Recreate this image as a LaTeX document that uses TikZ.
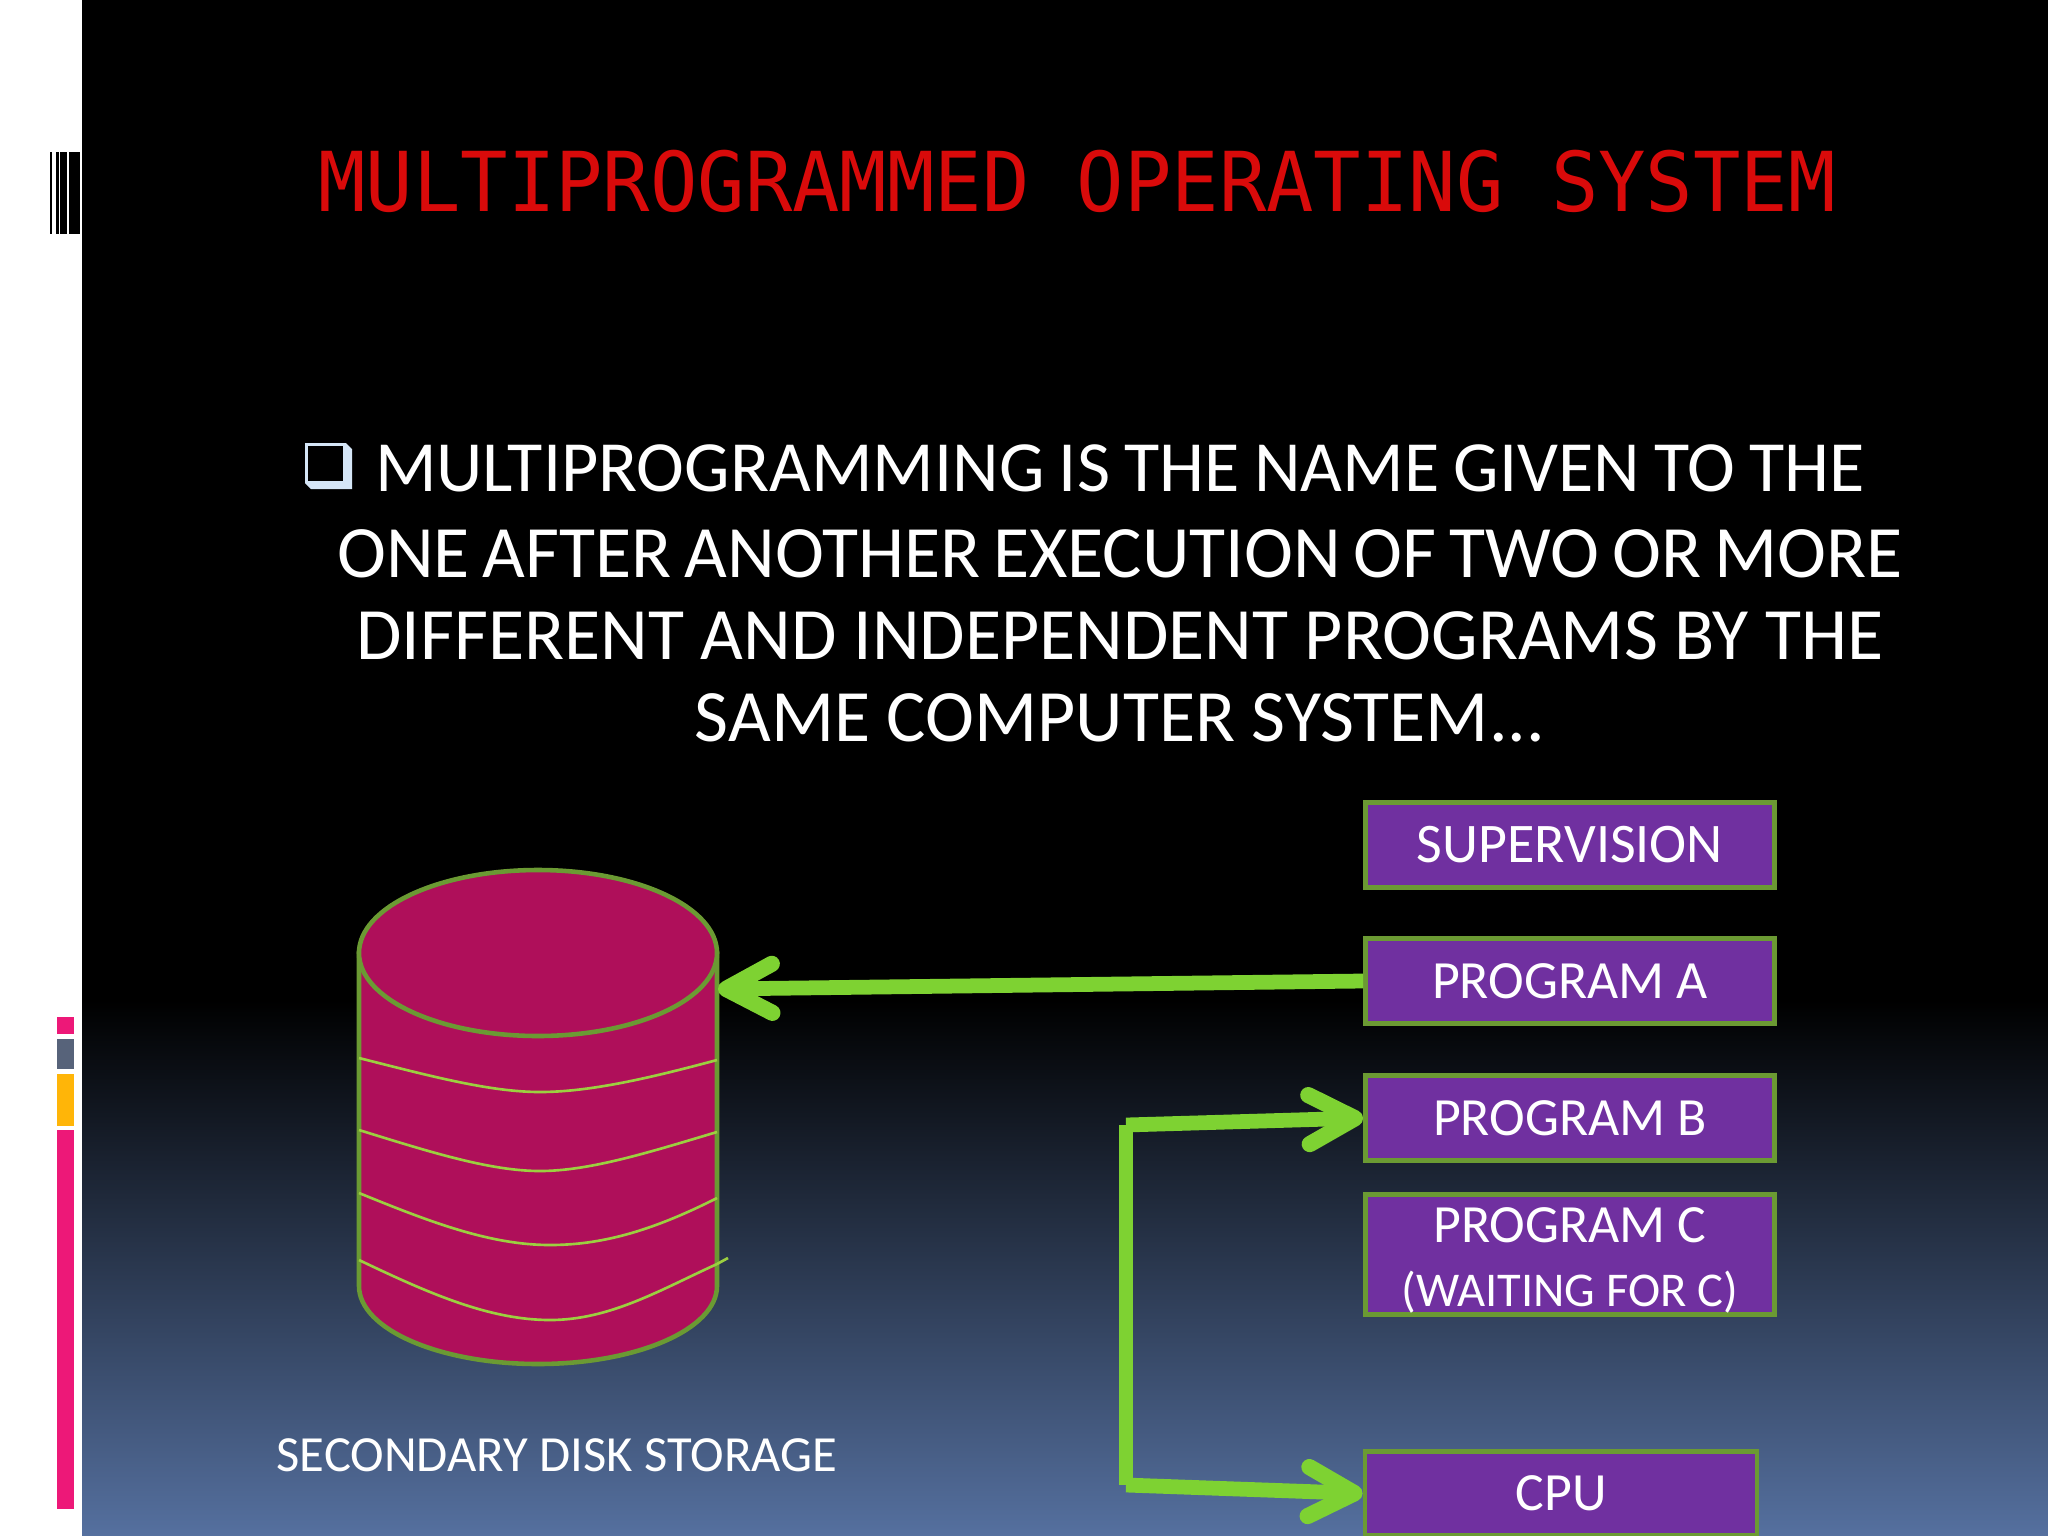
\documentclass[tikz,border=0pt]{standalone}
\usepackage{fontspec}
\setmainfont{Carlito}
\newfontfamily\slidemono[FakeStretch=0.953]{DejaVu Sans Mono}
\usetikzlibrary{calc,arrows.meta,positioning}
\definecolor{slideblue}{HTML}{55709F}
\definecolor{slidered}{HTML}{D90A0A}
\definecolor{slidepink}{HTML}{ED1878}
\definecolor{slidegray}{HTML}{57637A}
\definecolor{slideamber}{HTML}{FFB508}
\definecolor{diskfill}{HTML}{AF0F5A}
\definecolor{boxfill}{HTML}{7030A0}
\definecolor{edgegreen}{HTML}{6B9A33}
\definecolor{arrowgreen}{HTML}{7ED232}
\definecolor{trackgreen}{HTML}{9CCF40}
\definecolor{bulletblue}{HTML}{D5E6F7}
\tikzset{
  bodyline/.style={anchor=base,text=white,inner sep=0pt,font=\fontsize{21}{24}\selectfont},
  progbox/.style={draw=edgegreen,fill=boxfill,line width=1.3pt,text=white,inner sep=0pt,
    minimum width=4.09cm,minimum height=.845cm,align=center,
    font=\fontsize{15.3}{18.2}\selectfont},
  link/.style={draw=arrowgreen,line width=4.2pt},
  linkhead/.style={link,-{Straight Barb[round,length=4.6mm,width=4.9mm,line width=4.6pt]}},
  track/.style={draw=trackgreen,line width=.75pt},
}
\begin{document}
\begin{tikzpicture}[x=0.01cm,y=-0.01cm]
    \useasboundingbox (0,0) rectangle (2048,1536);
    % slide
    \fill[white] (0,0) rectangle (2048,1536);
    \fill[black] (82,0) rectangle (2048,1001);
    \shade[top color=black,bottom color=slideblue] (82,1000) rectangle (2048,1536);
    % barcode and side bars
    \foreach \xa/\xb in {50/52,56/59,60/67,69/80}
        \fill[black] (\xa,152) rectangle (\xb,234);
    \fill[slidepink] (57,1017) rectangle (74,1034);
    \fill[slidegray] (57,1039) rectangle (74,1069);
    \fill[slideamber] (57,1074) rectangle (74,1126);
    \fill[slidepink] (57,1130) rectangle (74,1509);

    \node (title) [anchor=base,text=slidered,inner sep=0pt,font=\slidemono\fontsize{23.5}{30}\selectfont] at (1077,211) {MULTIPROGRAMMED OPERATING SYSTEM};

    % bullet
    \fill[bulletblue] (305,443) -- (346,443) -- (352,449) -- (352,489) -- (311,489) -- (305,483) -- cycle;
    \fill[black] (308,446) rectangle (343,481);

    \node (line1) [bodyline,font=\fontsize{20.5}{24}\selectfont] at (1120,491) {\spaceskip=4.1pt\relax MULTIPROGRAMMING IS THE NAME GIVEN TO THE};
    \node (line2) [bodyline] at (1120,577) {\spaceskip=3.7pt\relax ONE AFTER ANOTHER EXECUTION OF TWO OR MORE};
    \node (line3) [bodyline] at (1120,659) {DIFFERENT AND INDEPENDENT PROGRAMS BY THE};
    \node (line4) [bodyline] at (1120,741) {SAME COMPUTER SYSTEM...};

    % disk
    \coordinate (1) at (359,953);
    \coordinate (2) at (717,953);
    \coordinate (3) at (717,1286);
    \coordinate (4) at (359,1286);
    \coordinate (5) at (718,989);
    \filldraw[fill=diskfill,draw=edgegreen,line width=1.3pt] (1) -- (4) arc (180:360:179 and -78) -- (2) -- cycle;
    \draw[track] (359,1058) .. controls (430,1076) and (490,1092) .. (540,1092) .. controls (590,1092) and (650,1078) .. (717,1060);
    \draw[track] (359,1130) .. controls (430,1152) and (490,1171) .. (540,1171) .. controls (590,1171) and (650,1152) .. (717,1132);
    \draw[track] (359,1193) .. controls (430,1222) and (490,1245) .. (550,1245) .. controls (600,1245) and (650,1232) .. (717,1198);
    \draw[track] (359,1260) .. controls (430,1294) and (490,1320) .. (550,1320) .. controls (610,1320) and (660,1290) .. (717,1264) -- (728,1258);
    \filldraw[fill=diskfill,draw=edgegreen,line width=1.3pt] (538,953) ellipse (179 and 83);
    \node (disklabel) [anchor=base,text=white,inner sep=0pt,font=\fontsize{14.4}{17}\selectfont] at (557,1471) {SECONDARY DISK STORAGE};

    % program stack
    \node (supervision) [progbox,font=\fontsize{15.9}{18.2}\selectfont] at (1570,845) {SUPERVISION};
    \node (proga) [progbox] at (1570,981) {PROGRAM A};
    \node (progb) [progbox] at (1570,1118) {PROGRAM B};
    \node (progc) [progbox,minimum height=1.195cm] at (1570,1254.5) {\rule{0pt}{13.5pt}PROGRAM C\\{\fontsize{13.8}{18.2}\selectfont (WAITING FOR C)}};
    \node (cpu) [progbox,minimum width=3.92cm,minimum height=.835cm] at (1561,1493.5) {CPU};

    \coordinate (6) at (1126,1125);
    \coordinate (7) at (1126,1485);

    \draw[linkhead] (proga.west) -- (5);
    \draw[link] (6) -- (7);
    \draw[linkhead] (6) -- (progb.west);
    \draw[linkhead] (7) -- (cpu.west);
\end{tikzpicture}
\end{document}
